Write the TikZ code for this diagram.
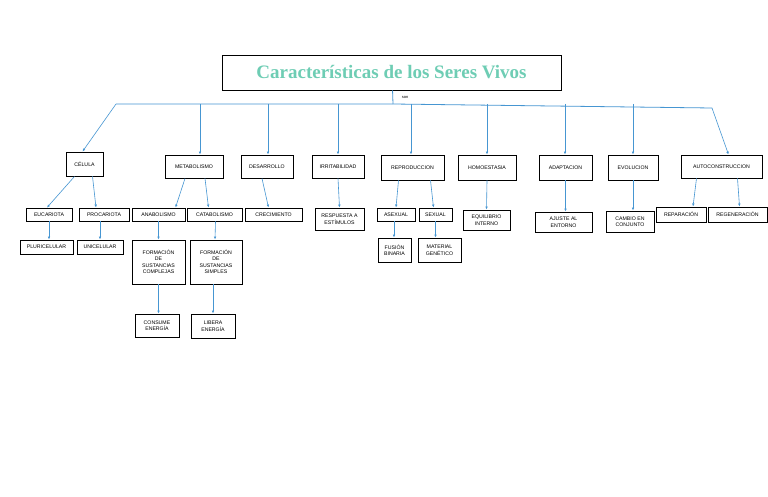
\documentclass[tikz,border=0pt]{standalone}
\usepackage{fontspec}
\setmainfont{Liberation Sans}
\newfontfamily\titlefont{Liberation Serif}
\definecolor{lnk}{RGB}{70,150,210}
\definecolor{ttl}{RGB}{110,205,180}
\begin{document}
\begin{tikzpicture}[x=1pt,y=-1pt,
 box/.style={draw,line width=0.9pt,inner sep=1pt,align=center,font=\fontsize{5.2}{6.5}\selectfont},
 arr/.style={draw=lnk,line width=0.6pt,-{Latex[length=3pt,width=2.6pt]}},
 ln/.style={draw=lnk,line width=0.8pt}]
\usetikzlibrary{arrows.meta}
\useasboundingbox[fill=white] (0,0) rectangle (768,497);
\newcommand\bx[7]{\node[box,minimum width=#3-#2,minimum height=#5-#4] (#1) at ({(#2+#3)/2},{(#4+#5)/2}) {#6#7};}
\bx{t}{222}{561}{55}{90}{\titlefont\bfseries\fontsize{19}{20}\selectfont\color{ttl}}{Características de los Seres Vivos}
\node[font=\fontsize{4}{4}\selectfont] (son) at (405,97) {son};
\bx{cel}{66}{103}{152}{176}{}{CÉLULA}
\bx{met}{165}{223}{155}{178}{}{METABOLISMO}
\bx{des}{241}{293}{155}{178}{}{DESARROLLO}
\bx{irr}{312}{364}{155}{178}{}{IRRITABILIDAD}
\bx{rep}{381}{444}{155}{180}{}{REPRODUCCION}
\bx{hom}{458}{516}{155}{180}{}{HOMOESTASIA}
\bx{ada}{539}{592}{155}{180}{}{ADAPTACION}
\bx{evo}{608}{658}{155}{180}{}{EVOLUCION}
\bx{aut}{681}{762}{155}{178}{}{AUTOCONSTRUCCION}
\bx{euc}{26}{72}{208}{221}{}{EUCARIOTA}
\bx{pro}{79}{129}{208}{221}{}{PROCARIOTA}
\bx{ana}{132}{185}{208}{221}{}{ANABOLISMO}
\bx{cat}{187}{242}{208}{221}{}{CATABOLISMO}
\bx{cre}{245}{302}{208}{221}{}{CRECIMIENTO}
\bx{res}{315}{364}{208}{230}{}{RESPUESTA A\\ESTÍMULOS}
\bx{ase}{377}{415}{208}{221}{}{ASEXUAL}
\bx{sex}{419}{452}{208}{221}{}{SEXUAL}
\bx{equ}{463}{510}{210}{230}{}{EQUILIBRIO\\INTERNO}
\bx{aju}{535}{592}{212}{232}{}{AJUSTE AL\\ENTORNO}
\bx{cam}{606}{654}{211}{232}{}{CAMBIO EN\\CONJUNTO}
\bx{repa}{656}{706}{207}{222}{}{REPARACIÓN}
\bx{reg}{708}{767}{207}{222}{}{REGENERACIÓN}
\bx{plu}{20}{73}{240}{254}{}{PLURICELULAR}
\bx{uni}{77}{123}{240}{254}{}{UNICELULAR}
\bx{fc}{132}{185}{240}{284}{}{FORMACIÓN\\DE\\SUSTANCIAS\\COMPLEJAS}
\bx{fs}{190}{242}{240}{284}{}{FORMACIÓN\\DE\\SUSTANCIAS\\SIMPLES}
\bx{fus}{378}{411}{238}{262}{}{FUSIÓN\\BINARIA}
\bx{mat}{418}{461}{238}{262}{}{MATERIAL\\GENÉTICO}
\bx{con}{135}{179}{314}{337}{}{CONSUME\\ENERGÍA}
\bx{lib}{191}{235}{314}{338}{}{LIBERA\\ENERGÍA}
\coordinate (j) at (393,104);
\coordinate (l) at (116,104);
\coordinate (r) at (712,108);
\draw[ln] ([xshift=171pt]t.south west) -- (j);
\draw[ln] (l) -- (j) -- (r);
\draw[arr] (l) -- ([xshift=-2pt]cel.north);
\draw[arr] (r) -- ([xshift=7pt]aut.north);
\foreach \n/\x in {met/200,des/268,irr/338,rep/411,hom/487,ada/565,evo/633}
  \draw[arr] (\x,104) -- (\n.north -| \x,0);
\draw[arr] ([xshift=-10pt]cel.south) -- ([xshift=-2pt]euc.north);
\draw[arr] ([xshift=8pt]cel.south) -- ([xshift=-8pt]pro.north);
\draw[arr] ([xshift=-9pt]met.south) -- ([xshift=17pt]ana.north);
\draw[arr] ([xshift=11pt]met.south) -- ([xshift=-6pt]cat.north);
\draw[arr] ([xshift=-5pt]des.south) -- ([xshift=-5pt]cre.north);
\draw[arr] ([xshift=0pt]irr.south) -- ([xshift=0pt]res.north);
\draw[arr] ([xshift=-14pt]rep.south) -- ([xshift=0pt]ase.north);
\draw[arr] ([xshift=18pt]rep.south) -- ([xshift=-2pt]sex.north);
\draw[arr] (hom.south) -- ([xshift=0pt]equ.north);
\draw[arr] (ada.south) -- ([xshift=2pt]aju.north);
\draw[arr] (evo.south) -- ([xshift=3pt]cam.north);
\draw[arr] ([xshift=-25pt]aut.south) -- ([xshift=12pt]repa.north);
\draw[arr] ([xshift=16pt]aut.south) -- ([xshift=2pt]reg.north);
\draw[arr] (euc.south) -- (plu.north -| euc.south);
\draw[arr] (pro.south -| uni.north) -- (uni.north);
\draw[arr] (ana.south) -- (fc.north);
\draw[arr] ([xshift=1pt]cat.south) -- (fs.north -| 215,0);
\draw[arr] (fc.south) -- (con.north -| fc.south);
\draw[arr] (213,284) -- (lib.north -| 213,0);
\draw[arr] (ase.south -| 394,0) -- (fus.north -| 394,0);
\draw[arr] (sex.south) -- (mat.north -| sex.south);
\end{tikzpicture}
\end{document}
